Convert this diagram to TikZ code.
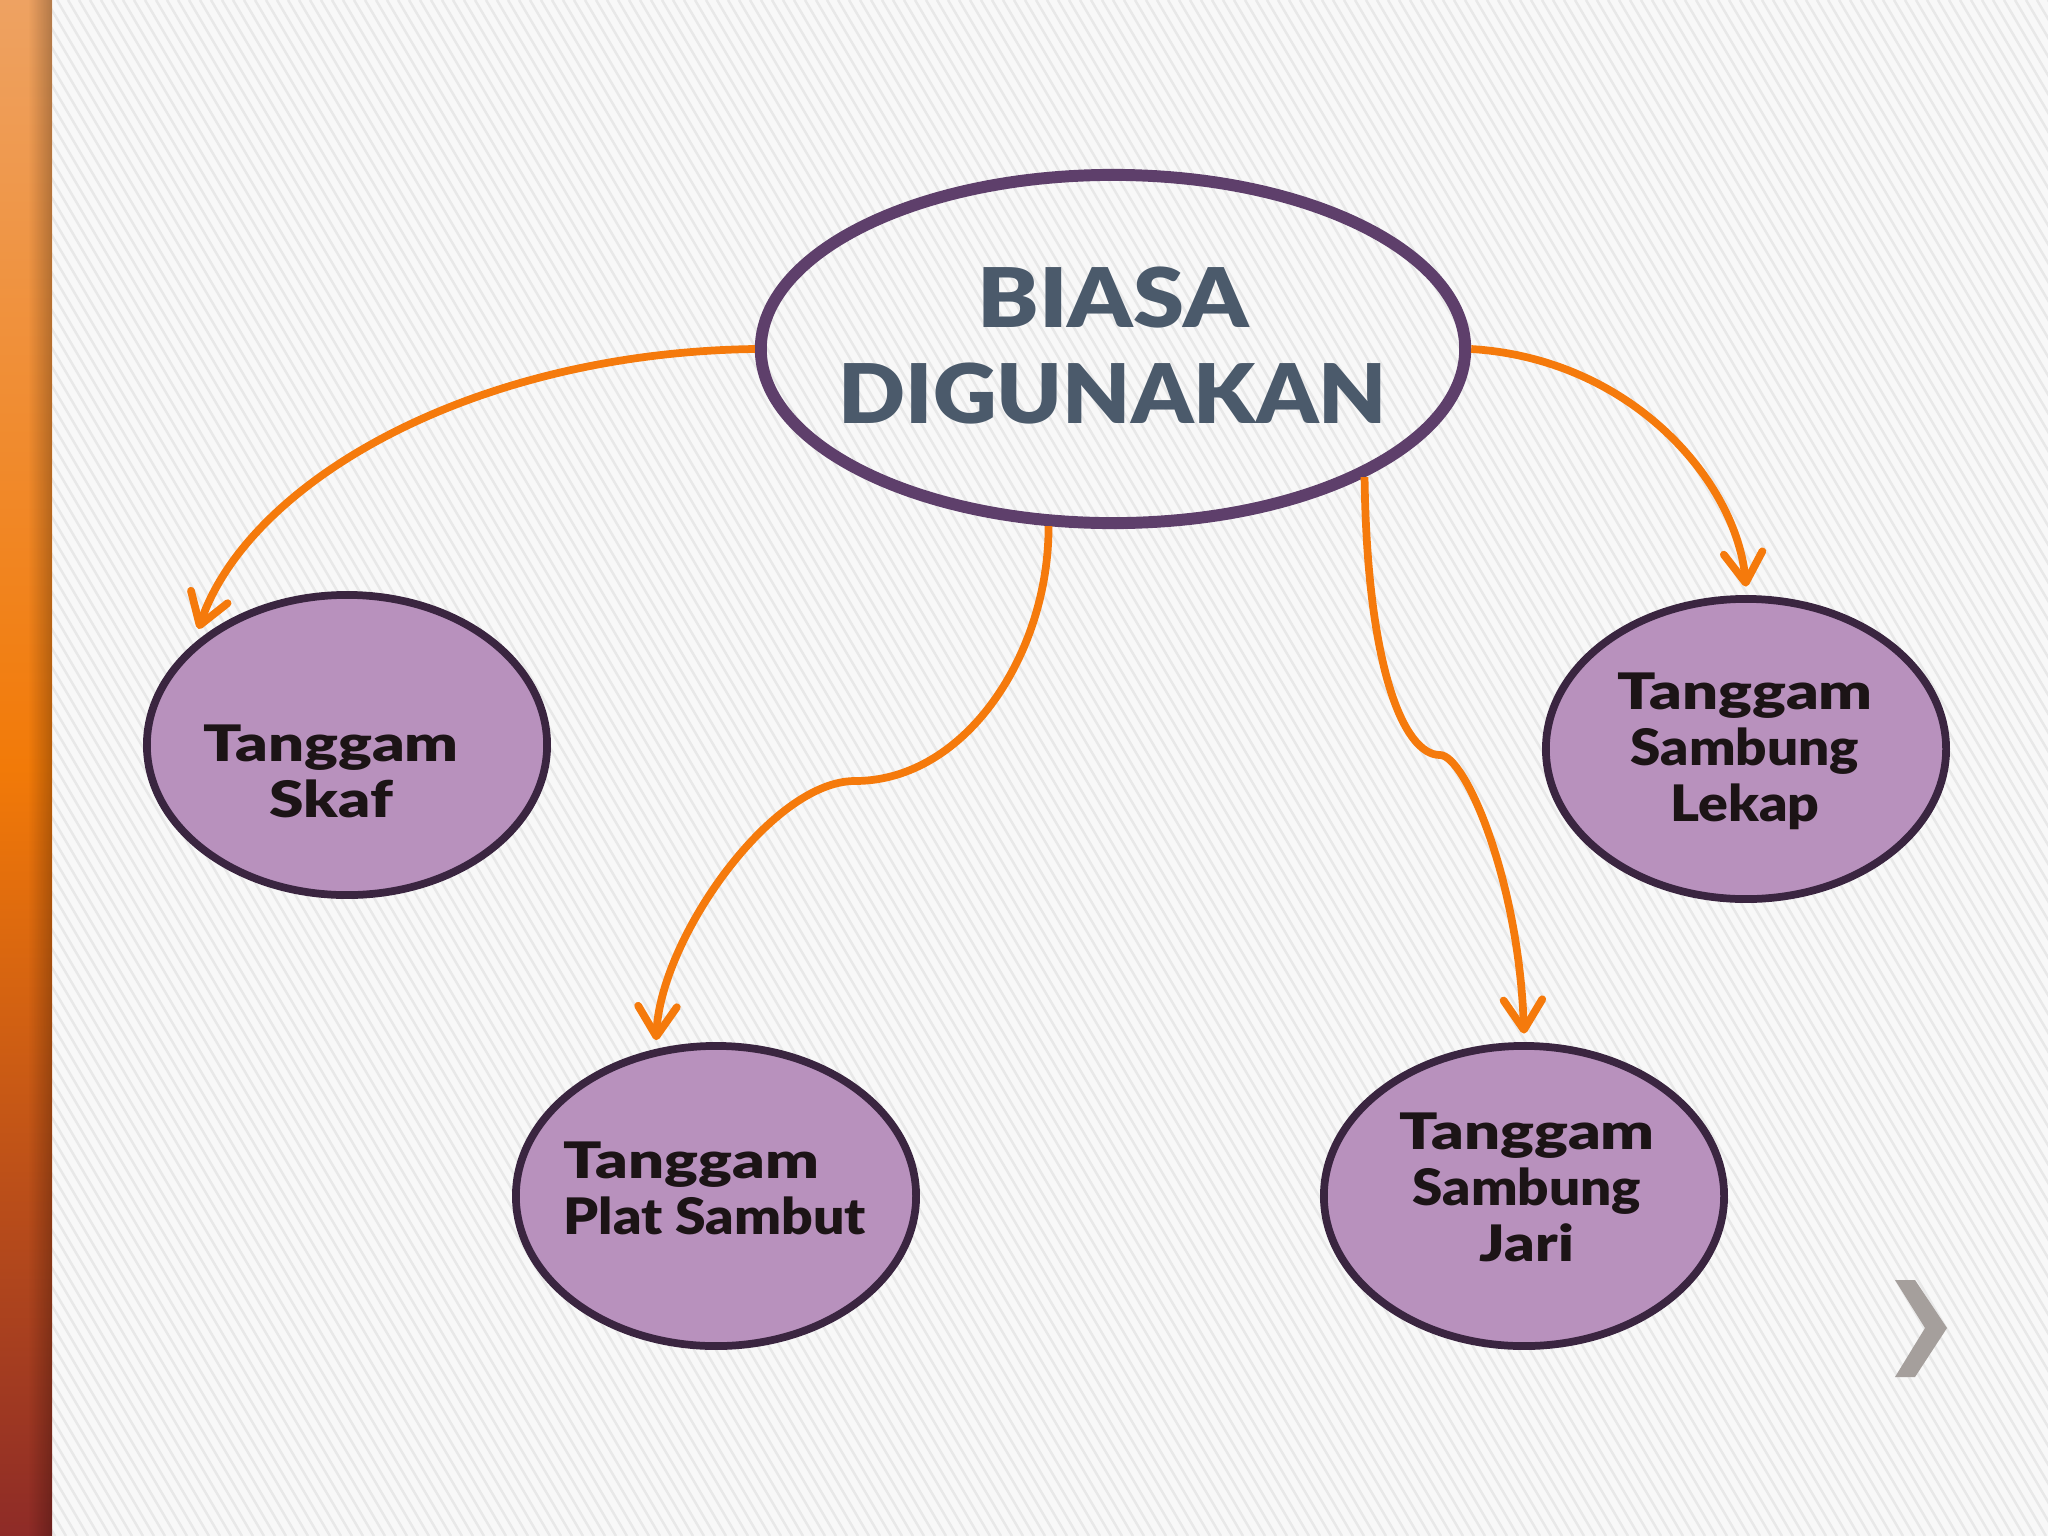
\documentclass[tikz,border=0pt]{standalone}
\usepackage{fontspec}
\usepackage{graphicx}
\usetikzlibrary{shapes.geometric,arrows.meta,fadings}
\newfontfamily\heavyfont{Lato Black}
\definecolor{bgc}{HTML}{F8F8F8}
\definecolor{stripec}{HTML}{E8E8E8}
\definecolor{barTop}{HTML}{EEA262}
\definecolor{barMid}{HTML}{F27A08}
\definecolor{barBot}{HTML}{8E2B27}
\definecolor{mainLine}{HTML}{5E3F6B}
\definecolor{titleC}{HTML}{4B5A6B}
\definecolor{childFill}{HTML}{B891BD}
\definecolor{childLine}{HTML}{3A2540}
\definecolor{childText}{HTML}{1C1416}
\definecolor{arrowC}{HTML}{F57A0C}
\definecolor{chevC}{HTML}{A59F9C}
\newcommand{\sx}[2]{\scalebox{#1}[1]{#2}}
\begin{document}
\begin{tikzpicture}[x=0.01cm,y=-0.01cm,
  mainell/.style={ellipse, draw=mainLine, line width=3.4pt, minimum width=7.04cm, minimum height=3.48cm, inner sep=0pt, outer sep=1.7pt},
  childell/.style={ellipse, draw=childLine, fill=childFill, line width=2.2pt, minimum width=4.0cm, minimum height=3.0cm, inner sep=0pt, outer sep=3.5pt},
  titletext/.style={text=titleC, font=\heavyfont\fontsize{23.4pt}{27.3pt}\selectfont, align=center, inner sep=0pt},
  childtext/.style={text=childText, font=\heavyfont\fontsize{14.3pt}{15.9pt}\selectfont, align=center, inner sep=0pt},
  conn/.style={draw=arrowC, line width=2.2pt, -{Straight Barb[length=8.5pt,width=11pt,round]}},
  stripe/.style={draw=stripec, line width=0.7pt}
]
\useasboundingbox (0,0) rectangle (2048,1536);
\fill[bgc] (0,0) rectangle (2048,1536);
\begin{scope}
  \clip (52,0) rectangle (2048,1536);
  \foreach \t in {-900,-889,...,2048} \draw[stripe] (\t,0) -- ++(900,1536);
\end{scope}
% left bar
\shade[top color=barTop, bottom color=barBot, middle color=barMid] (0,0) rectangle (52,1536);
\fill[black, opacity=0.25, path fading=west] (28,0) rectangle (52,1536);

% nodes
\node[mainell] (main) at (1113,349) {};
\node[titletext] (title) at (1113,346) {\sx{1.12}{BIASA}\\\sx{1.07}{DIGUNAKAN}};

\node[childell] (c1) at (347,745) {};
\node[childtext] (t1) at (331,771) {\sx{1.26}{Tanggam}\\\sx{1.24}{Skaf}};

\node[childell] (c2) at (716,1196) {};
\node[childtext, align=left, anchor=west] (t2) at (563,1188) {\sx{1.26}{Tanggam}\\\sx{1.10}{Plat Sambut}};

\node[childell] (c3) at (1524,1196) {};
\node[childtext] (t3) at (1527,1187) {\sx{1.26}{Tanggam}\\\sx{1.09}{Sambung}\\\sx{1.18}{Jari}};

\node[childell] (c4) at (1746,749) {};
\node[childtext] (t4) at (1745,751) {\sx{1.26}{Tanggam}\\\sx{1.09}{Sambung}\\\sx{1.10}{Lekap}};

% connectors
\draw[conn] (main.west) .. controls (470,353) and (248,483) .. (c1.142);
\draw[conn] (main.-110) .. controls (1049,653) and (966,781) .. (855,781)
            .. controls (771,781) and (660,940) .. (c2.111);
\draw[conn] (main.-27) .. controls (1367,665) and (1403,755) .. (1440,755)
            .. controls (1465,755) and (1519,880) .. (c3.north);
\draw[conn] (main.east) .. controls (1633,359) and (1737,483) .. (c4.north);

% chevron
\fill[chevC] (1895,1280) -- (1915,1280) -- (1947,1328) -- (1915,1377) -- (1895,1377) -- (1925,1328) -- cycle;
\end{tikzpicture}
\end{document}
